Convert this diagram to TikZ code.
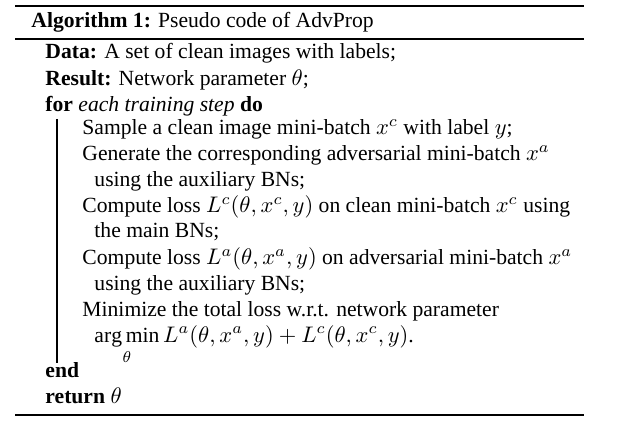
\documentclass[tikz,border=0pt]{standalone}
\usepackage{fontspec}
\setmainfont{Liberation Serif}
\begin{document}
\begin{tikzpicture}[x=0.444pt,y=-0.444pt,
  t/.style={anchor=base west,inner sep=0pt,font=\fontsize{9.6}{11.5}\selectfont}]
\useasboundingbox (0,0) rectangle (635,432);
\draw[line width=0.9pt] (15,6) -- (584,6);
\draw[line width=0.6pt] (15,39) -- (584,39);
\draw[line width=0.9pt] (15,415) -- (584,415);
\node[t] (h) at (31,28) {\textbf{Algorithm 1:} Pseudo code of AdvProp};
\node[t] (d) at (45,59) {\textbf{Data:} A set of clean images with labels;};
\node[t] (r) at (45,86) {\textbf{Result:} Network parameter $\theta$;};
\node[t] (f) at (45,112) {\textbf{for} \textit{each training step} \textbf{do}};
\node[t] (l1) at (82,135) {Sample a clean image mini-batch $x^c$ with label $y$;};
\node[t] (l2) at (82,161) {Generate the corresponding adversarial mini-batch $x^a$};
\node[t] (l3) at (94,187) {using the auxiliary BNs;};
\node[t] (l4) at (82,213) {Compute loss $L^c(\theta,x^c,y)$ on clean mini-batch $x^c$ using};
\node[t] (l5) at (94,238) {the main BNs;};
\node[t] (l6) at (82,265) {Compute loss $L^a(\theta,x^a,y)$ on adversarial mini-batch $x^a$};
\node[t] (l7) at (94,291) {using the auxiliary BNs;};
\node[t] (l8) at (82,317) {Minimize the total loss w.r.t. network parameter};
\node[t] (l9) at (94,343) {$\displaystyle\mathop{\arg\min}_{\theta} L^a(\theta,x^a,y)+L^c(\theta,x^c,y)$.};
\node[t] (e) at (45,378) {\textbf{end}};
\node[t] (rt) at (45,404) {\textbf{return} $\theta$};
\draw[line width=0.5pt] (57,119) -- (57,363);
\end{tikzpicture}
\end{document}
